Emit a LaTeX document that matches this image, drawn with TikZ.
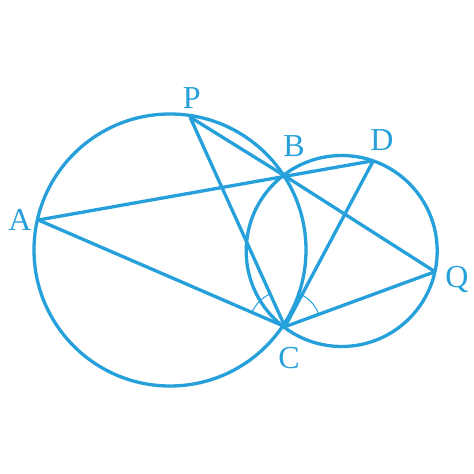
\documentclass[tikz,border=0pt]{standalone}
\usepackage{fontspec}
\setmainfont{Liberation Serif}
\usetikzlibrary{angles}
\definecolor{geo}{RGB}{38,160,218}
\begin{document}
\begin{tikzpicture}[x=1pt,y=-1pt,
  geoline/.style={draw=geo,line width=3.3pt,line join=round},
  anglemark/.style={draw=geo,line width=1pt,angle radius=36pt},
  lbl/.style={text=geo,inner sep=0pt,font=\fontsize{32}{34}\selectfont}]
\useasboundingbox (0,0) rectangle (474,474);
\coordinate (O1) at (170,250);
\coordinate (O2) at (341.7,251);
\coordinate (A) at (38.3,220);
\coordinate (P) at (190,117);
\coordinate (B) at (285,176);
\coordinate (D) at (373.3,160.7);
\coordinate (Q) at (435,271.7);
\coordinate (C) at (285,326.7);
\draw[geoline] (O1) circle[radius=136pt];
\draw[geoline] (O2) circle[radius=95.5pt];
\draw[geoline] (A) -- (D);
\draw[geoline] (A) -- (C);
\draw[geoline] (P) -- (B);
\draw[geoline] (P) -- (C);
\draw[geoline] (B) -- (Q);
\draw[geoline] (C) -- (D);
\draw[geoline] (C) -- (Q);
\pic[anglemark] {angle = P--C--A};
\pic[anglemark] {angle = Q--C--D};
\node[lbl] (lA) at (20,220) {A};
\node[lbl] (lP) at (191.7,98) {P};
\node[lbl] (lB) at (294,146.5) {B};
\node[lbl] (lD) at (382,140) {D};
\node[lbl,anchor=base] (lQ) at (457,287) {Q};
\node[lbl] (lC) at (289,358) {C};
\end{tikzpicture}
\end{document}
